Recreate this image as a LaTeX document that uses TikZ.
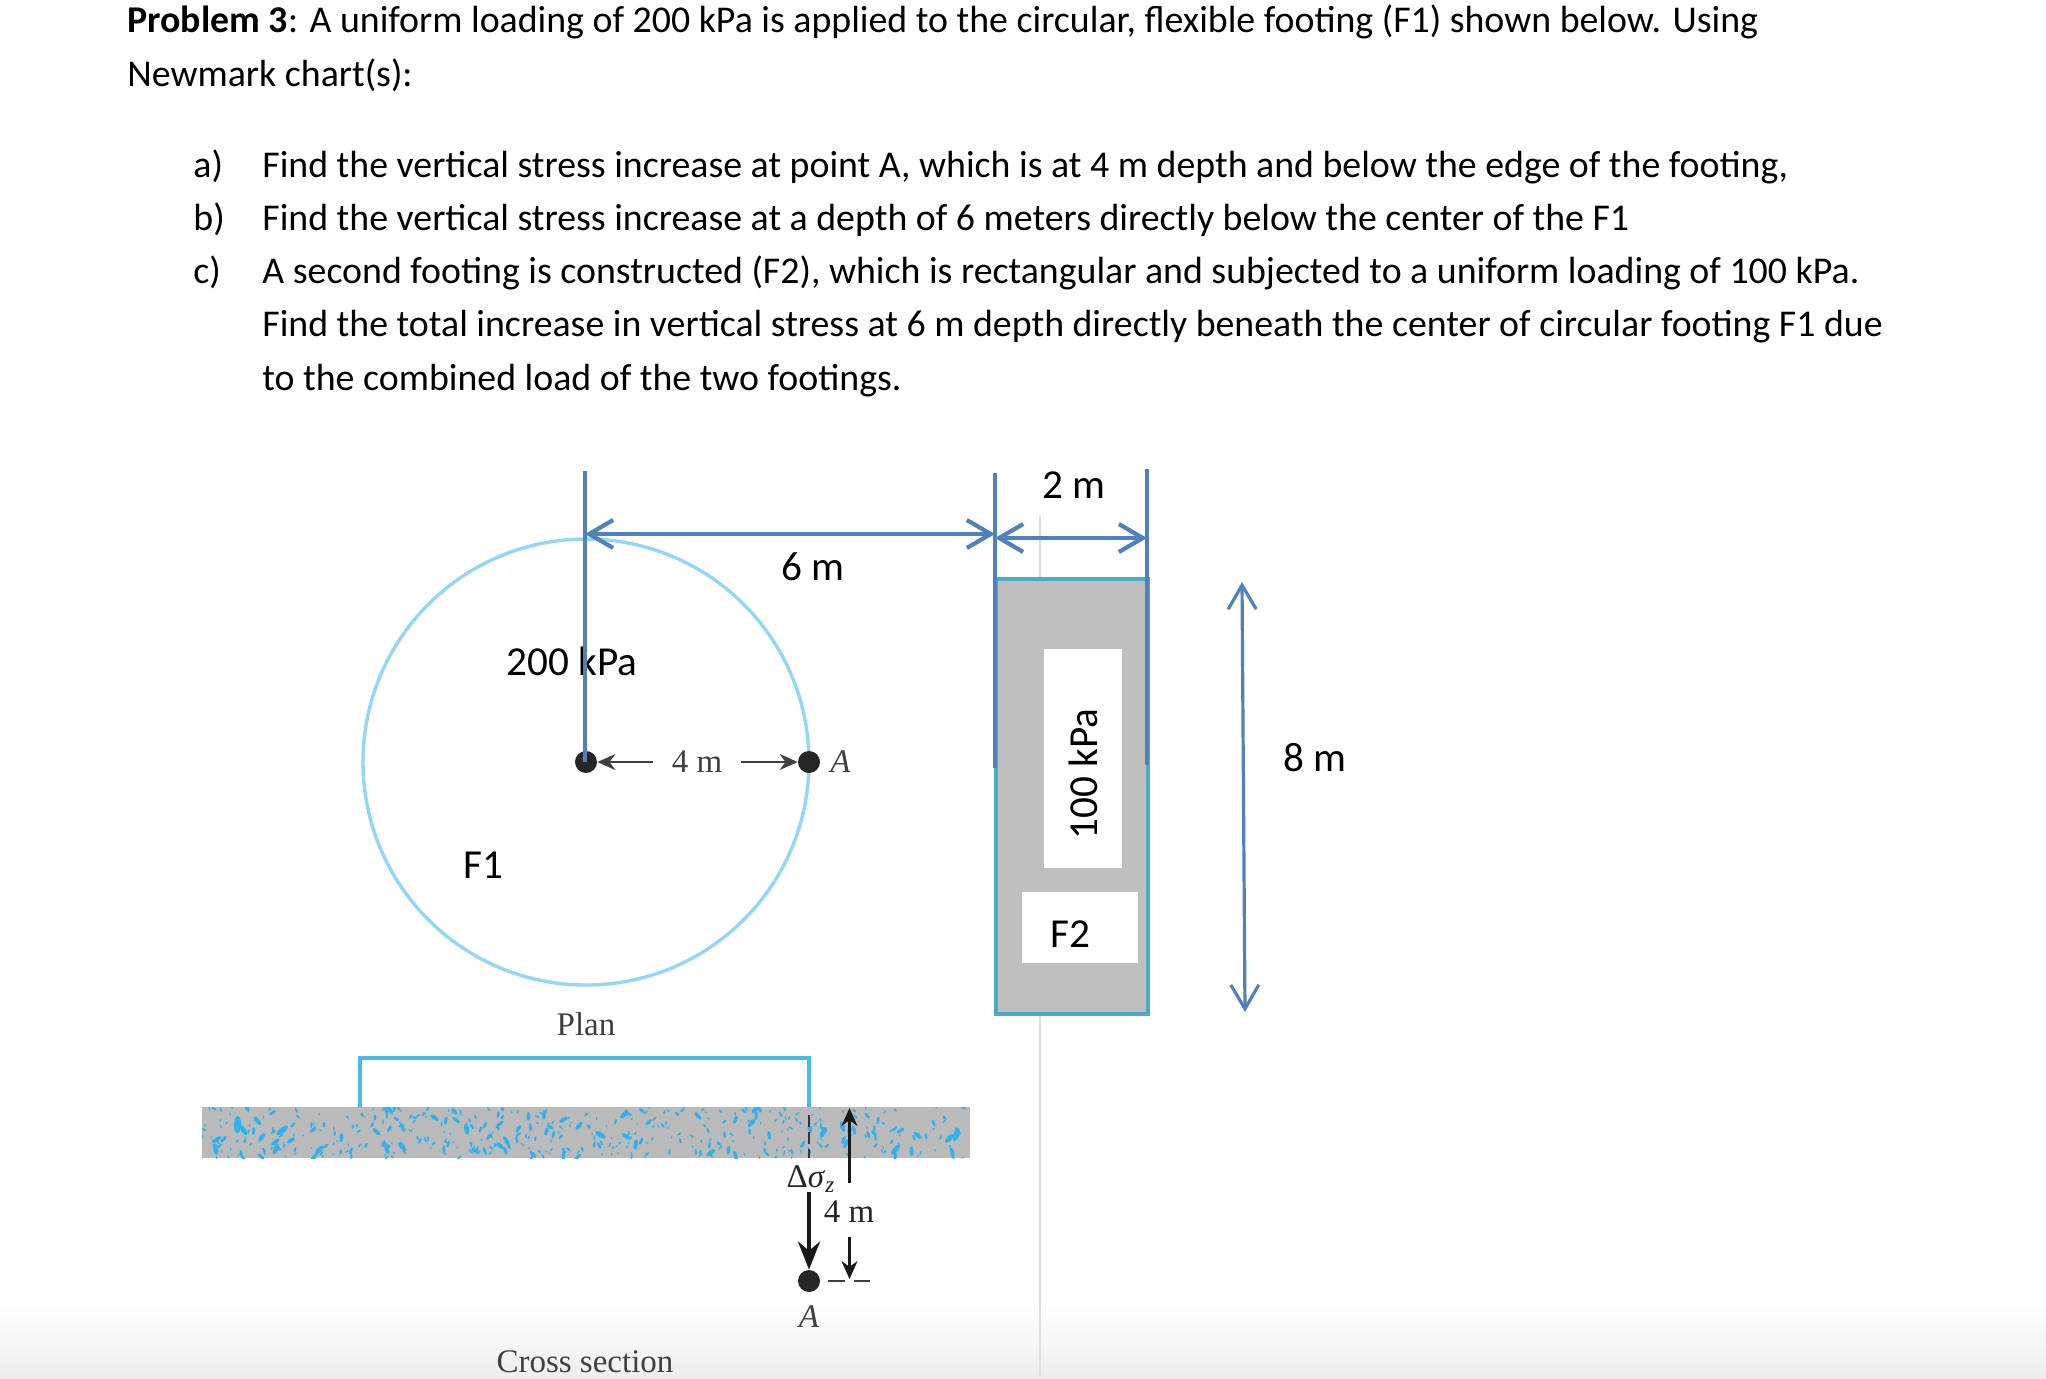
\documentclass[tikz,border=0pt]{standalone}
\usepackage{fontspec}
\usepackage{amsmath}
\setmainfont{Carlito}
\newfontfamily\bookfont{Liberation Serif}
\usetikzlibrary{arrows.meta}
\definecolor{dimblue}{HTML}{4F81BD}
\definecolor{ringblue}{HTML}{93D6F5}
\definecolor{cutblue}{HTML}{45BDEB}
\definecolor{rectblue}{HTML}{4BACC6}
\definecolor{speck}{HTML}{2FB2EC}
\tikzset{
  txt/.style = {anchor=base west, inner sep=0pt, font=\fontsize{18.92}{22}\selectfont},
  lbl/.style = {inner sep=0pt, font=\fontsize{20.6}{24}\selectfont},
  book/.style = {inner sep=0pt, text=black!75, font=\bookfont\fontsize{16.5}{19}\selectfont},
  dot/.style = {circle, fill=black!85, inner sep=0pt, minimum size=11pt},
  whitebox/.style = {fill=white, inner sep=0pt},
  dimline/.style = {dimblue, line width=1.7pt},
  dim/.style = {dimline, line width=2.1pt, {Straight Barb[length=12pt,width=14pt]}-{Straight Barb[length=12pt,width=14pt]}},
  thin arrow/.style = {-{Stealth[length=9pt,width=8pt]}, black!75, line width=1.1pt}
}
\begin{document}
\begin{tikzpicture}[x=0.5pt, y=-0.5pt]
\useasboundingbox (0,0) rectangle (2046,1378);
\shade[top color=white, bottom color=black!7] (0,1305) rectangle (2046,1378);
% problem text
\node[txt] (p1) at (127,32) {\textbf{Problem 3}: A uniform loading of 200 kPa is applied to the circular, flexible footing (F1) shown below. Using};
\node[txt] (p2) at (127,86) {Newmark chart(s):};
\node[txt] (qa) at (193,177) {a)};
\node[txt] (qb) at (193,230) {b)};
\node[txt] (qc) at (193,283) {c)};
\node[txt] (ta) at (262,177) {Find the vertical stress increase at point A, which is at 4 m depth and below the edge of the footing,};
\node[txt] (tb) at (262,230) {Find the vertical stress increase at a depth of 6 meters directly below the center of the F1};
\node[txt] (tc) at (262,283) {A second footing is constructed (F2), which is rectangular and subjected to a uniform loading of 100 kPa.};
\node[txt] (td) at (262,336) {Find the total increase in vertical stress at 6 m depth directly beneath the center of circular footing F1 due};
\node[txt] (te) at (262,390) {to the combined load of the two footings.};
% plan
\draw[black!12, line width=0.6pt] (1040,515) -- (1040,1378);
\draw[ringblue, line width=1.7pt] (586,762) circle (223);
\node[lbl] (load1) at (572,661) {200 kPa};
\node[lbl] (f1) at (483,865) {F1};
\node[dot] (centre) at (586,762) {};
\node[dot] (a) at (809,762) {};
\node[book, inner xsep=9pt] (four) at (697,762) {4 m};
\node[book, anchor=west] (aname) at (830,762) {\textit{A}};
\node[book] (plan) at (586,1024) {Plan};
\draw[thin arrow] (four) -- (centre);
\draw[thin arrow] (four) -- (a);
% footing F2
\draw[rectblue, line width=1.7pt, fill=black!25] (996,579) rectangle (1148,1014);
\node[whitebox, minimum width=39pt, minimum height=109.5pt] (w1) at (1083,758.5) {};
\node[whitebox, minimum width=58pt, minimum height=35.5pt] (w2) at (1080,927.5) {};
\node[lbl, rotate=90] (load2) at (1083,774) {100 kPa};
\node[lbl] (f2) at (1070,934) {F2};
% dimensions
\coordinate (v1a) at (585,471);
\coordinate (v1b) at (585,762);
\coordinate (v2a) at (995,473);
\coordinate (v2b) at (995,768);
\coordinate (v3a) at (1147,469);
\coordinate (v3b) at (1147,765);
\draw[dimline] (v1a) -- (v1b);
\draw[dimline] (v2a) -- (v2b);
\draw[dimline] (v3a) -- (v3b);
\draw[dim] (585,534) -- (995,534);
\draw[dim] (995,538) -- (1147,538);
\draw[dim, line width=1.6pt] (1242,582) -- (1245,1012);
\node[lbl] (six) at (813,567) {6 m};
\node[lbl] (two) at (1074,485) {2 m};
\node[lbl] (eight) at (1315,758) {8 m};
% cross section
\fill[black!27] (202,1107) rectangle (970,1158);
\begin{scope}
\clip (202,1107) rectangle (970,1158);
\pgfmathsetseed{31}
\foreach \i in {1,...,470} {
  \pgfmathsetmacro{\px}{202+768*rnd}
  \pgfmathsetmacro{\py}{1107+51*rnd}
  \pgfmathsetmacro{\pr}{0.8+3.6*rnd*rnd*rnd}
  \pgfmathsetmacro{\pa}{-60+120*rnd}
  \fill[speck, rotate around={\pa:(\px,\py)}] (\px,\py) ellipse ({\pr*0.45pt} and {\pr*1.1pt});
}
\end{scope}
\coordinate (fa) at (360,1107);
\coordinate (fb) at (360,1058);
\coordinate (fc) at (809,1058);
\coordinate (fd) at (809,1107);
\draw[cutblue, line width=1.7pt] (fa) -- (fb) -- (fc) -- (fd);
\coordinate (da) at (809,1115);
\coordinate (db) at (809,1158);
\draw[black!80, line width=1.1pt, dash pattern=on 6pt off 2.5pt] (da) -- (db);
\node[book, text=black!85] (stress) at (811,1179) {Δ\textit{σ}\textsubscript{\textit{z}}};
\node[dot] (adown) at (809,1281) {};
\node[book] (aname2) at (809,1317) {\textit{A}};
\node[book, text=black!85] (depth) at (849,1212) {4 m};
\coordinate (up1) at (849.5,1183);
\coordinate (up2) at (849.5,1108);
\coordinate (dn1) at (849.5,1237);
\coordinate (dn2) at (849.5,1279);
\coordinate (s1) at (809,1192);
\draw[-{Stealth[length=14pt,width=11pt]}, black!90, line width=2.2pt] (s1) -- (adown);
\draw[thin arrow, black!90] (up1) -- (up2);
\draw[thin arrow, black!90] (dn1) -- (dn2);
\coordinate (t1) at (828,1281);
\coordinate (t2) at (845,1281);
\coordinate (t3) at (854,1281);
\coordinate (t4) at (870,1281);
\draw[black!75, line width=1pt] (t1) -- (t2);
\draw[black!75, line width=1pt] (t3) -- (t4);
\node[book] (section) at (585,1362) {Cross section};
\end{tikzpicture}
\end{document}
